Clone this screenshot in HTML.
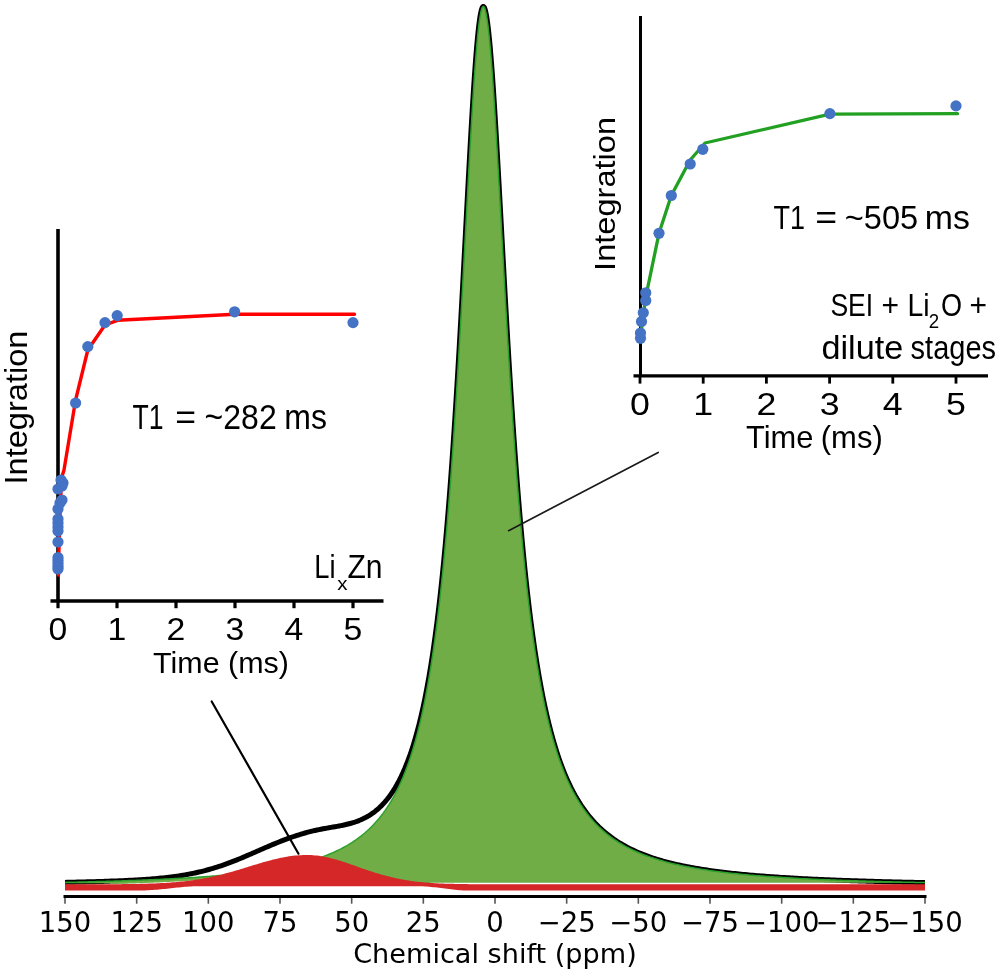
<!DOCTYPE html>
<html><head><meta charset="utf-8"><title>Li NMR spectrum with T1 insets</title><style>
html,body{margin:0;padding:0;background:#fff;}
svg{display:block;}
text{fill:#000;}
</style></head><body>
<svg width="1000" height="973" viewBox="0 0 1000 973">
<rect width="1000" height="973" fill="#fff"/>
<polyline points="65.00,882.40 67.00,882.36 69.00,882.31 71.00,882.26 73.00,882.22 75.00,882.17 77.00,882.12 79.00,882.07 81.00,882.02 83.00,881.97 85.00,881.92 87.00,881.86 89.00,881.81 91.00,881.75 93.00,881.70 95.00,881.64 97.00,881.58 99.00,881.52 101.00,881.45 103.00,881.39 105.00,881.33 107.00,881.26 109.00,881.19 111.00,881.12 113.00,881.04 115.00,880.97 117.00,880.89 119.00,880.81 121.00,880.73 123.00,880.64 125.00,880.55 127.00,880.46 129.00,880.36 131.00,880.26 133.00,880.16 135.00,880.05 137.00,879.93 139.00,879.82 141.00,879.69 143.00,879.57 145.00,879.43 147.00,879.29 149.00,879.14 151.00,878.99 153.00,878.83 155.00,878.66 157.00,878.48 159.00,878.30 161.00,878.10 163.00,877.90 165.00,877.69 167.00,877.46 169.00,877.23 171.00,876.98 173.00,876.72 175.00,876.45 177.00,876.17 179.00,875.87 181.00,875.56 183.00,875.23 185.00,874.89 187.00,874.53 189.00,874.16 191.00,873.77 193.00,873.36 195.00,872.94 197.00,872.50 199.00,872.04 201.00,871.56 203.00,871.07 205.00,870.55 207.00,870.02 209.00,869.47 211.00,868.90 213.00,868.31 215.00,867.70 217.00,867.07 219.00,866.42 221.00,865.76 223.00,865.07 225.00,864.37 227.00,863.65 229.00,862.92 231.00,862.16 233.00,861.40 235.00,860.62 237.00,859.82 239.00,859.01 241.00,858.19 243.00,857.36 245.00,856.52 247.00,855.67 249.00,854.81 251.00,853.94 253.00,853.07 255.00,852.20 257.00,851.33 259.00,850.45 261.00,849.58 263.00,848.70 265.00,847.83 267.00,846.97 269.00,846.11 271.00,845.26 273.00,844.42 275.00,843.59 277.00,842.77 279.00,841.96 281.00,841.17 283.00,840.39 285.00,839.63 287.00,838.88 289.00,838.15 291.00,837.44 293.00,836.75 295.00,836.08 297.00,835.42 299.00,834.79 301.00,834.17 303.00,833.58 305.00,833.00 307.00,832.44 309.00,831.90 311.00,831.39 313.00,830.91 315.00,830.45 317.00,830.02 319.00,829.60 321.00,829.21 323.00,828.82 325.00,828.46 327.00,828.10 329.00,827.75 331.00,827.40 333.00,827.06 335.00,826.71 337.00,826.35 339.00,825.98 341.00,825.59 343.00,825.18 345.00,824.75 347.00,824.28 349.00,823.78 351.00,823.24 353.00,822.65 355.00,822.01 357.00,821.31 359.00,820.55 361.00,819.72 363.00,818.81 365.00,817.83 367.00,816.75 369.00,815.58 371.00,814.31 373.00,812.93 375.00,811.43 377.00,809.80 379.00,808.04 381.00,806.14 383.00,804.09 385.00,801.88 387.00,799.49 389.00,796.92 391.00,794.15 393.00,791.17 395.00,787.97 397.00,784.52 399.00,780.82 401.00,776.84 403.00,772.57 405.00,767.98 407.00,763.05 409.00,757.74 411.00,752.04 413.00,745.91 415.00,739.32 417.00,732.22 419.00,724.58 421.00,716.35 423.00,707.47 425.00,697.90 427.00,687.57 429.00,676.41 431.00,664.35 433.00,651.31 435.00,637.21 437.00,621.96 439.00,605.45 440.00,596.69 440.25,594.45 440.50,592.18 440.75,589.90 441.00,587.59 441.25,585.25 441.50,582.90 441.75,580.52 442.00,578.12 442.25,575.69 442.50,573.24 442.75,570.77 443.00,568.27 443.25,565.75 443.50,563.20 443.75,560.63 444.00,558.03 444.25,555.41 444.50,552.76 444.75,550.09 445.00,547.39 445.25,544.66 445.50,541.91 445.75,539.13 446.00,536.33 446.25,533.49 446.50,530.64 446.75,527.75 447.00,524.84 447.25,521.90 447.50,518.93 447.75,515.93 448.00,512.91 448.25,509.85 448.50,506.77 448.75,503.66 449.00,500.53 449.25,497.36 449.50,494.16 449.75,490.94 450.00,487.68 450.25,484.40 450.50,481.09 450.75,477.75 451.00,474.37 451.25,470.97 451.50,467.54 451.75,464.08 452.00,460.59 452.25,457.07 452.50,453.52 452.75,449.93 453.00,446.32 453.25,442.68 453.50,439.01 453.75,435.31 454.00,431.58 454.25,427.82 454.50,424.03 454.75,420.20 455.00,416.35 455.25,412.47 455.50,408.56 455.75,404.63 456.00,400.66 456.25,396.66 456.50,392.63 456.75,388.58 457.00,384.50 457.25,380.38 457.50,376.25 457.75,372.08 458.00,367.89 458.25,363.67 458.50,359.42 458.75,355.15 459.00,350.85 459.25,346.52 459.50,342.17 459.75,337.80 460.00,333.41 460.25,328.99 460.50,324.54 460.75,320.08 461.00,315.60 461.25,311.09 461.50,306.57 461.75,302.02 462.00,297.46 462.25,292.88 462.50,288.28 462.75,283.67 463.00,279.04 463.25,274.40 463.50,269.75 463.75,265.09 464.00,260.41 464.25,255.73 464.50,251.03 464.75,246.33 465.00,241.63 465.25,236.92 465.50,232.20 465.75,227.49 466.00,222.77 466.25,218.06 466.50,213.35 466.75,208.64 467.00,203.94 467.25,199.24 467.50,194.56 467.75,189.88 468.00,185.22 468.25,180.57 468.50,175.94 468.75,171.33 469.00,166.73 469.25,162.16 469.50,157.61 469.75,153.09 470.00,148.59 470.25,144.12 470.50,139.69 470.75,135.29 471.00,130.93 471.25,126.60 471.50,122.32 471.75,118.07 472.00,113.88 472.25,109.73 472.50,105.63 472.75,101.58 473.00,97.58 473.25,93.64 473.50,89.77 473.75,85.95 474.00,82.19 474.25,78.50 474.50,74.88 474.75,71.33 475.00,67.85 475.25,64.44 475.50,61.12 475.75,57.87 476.00,54.70 476.25,51.62 476.50,48.62 476.75,45.71 477.00,42.89 477.25,40.16 477.50,37.53 477.75,34.99 478.00,32.55 478.25,30.21 478.50,27.97 478.75,25.83 479.00,23.80 479.25,21.87 479.50,20.05 479.75,18.34 480.00,16.74 480.25,15.26 480.50,13.88 480.75,12.62 481.00,11.47 481.25,10.44 481.50,9.53 481.75,8.73 482.00,8.05 482.25,7.49 482.50,7.05 482.75,6.73 483.00,6.52 483.25,6.44 483.50,6.48 483.75,6.62 484.00,6.88 484.25,7.25 484.50,7.74 484.75,8.33 485.00,9.04 485.25,9.85 485.50,10.78 485.75,11.81 486.00,12.95 486.25,14.20 486.50,15.56 486.75,17.02 487.00,18.59 487.25,20.26 487.50,22.03 487.75,23.90 488.00,25.87 488.25,27.94 488.50,30.11 488.75,32.37 489.00,34.72 489.25,37.17 489.50,39.70 489.75,42.33 490.00,45.04 490.25,47.83 490.50,50.71 490.75,53.67 491.00,56.71 491.25,59.83 491.50,63.02 491.75,66.28 492.00,69.61 492.25,73.02 492.50,76.49 492.75,80.02 493.00,83.62 493.25,87.28 493.50,91.00 493.75,94.77 494.00,98.60 494.25,102.48 494.50,106.42 494.75,110.39 495.00,114.42 495.25,118.49 495.50,122.60 495.75,126.75 496.00,130.94 496.25,135.17 496.50,139.43 496.75,143.72 497.00,148.04 497.25,152.39 497.50,156.77 497.75,161.17 498.00,165.59 498.25,170.04 498.50,174.50 498.75,178.98 499.00,183.48 499.25,187.99 499.50,192.52 499.75,197.05 500.00,201.59 500.25,206.14 500.50,210.70 500.75,215.26 501.00,219.83 501.25,224.40 501.50,228.96 501.75,233.53 502.00,238.10 502.25,242.66 502.50,247.22 502.75,251.77 503.00,256.32 503.25,260.85 503.50,265.38 503.75,269.90 504.00,274.41 504.25,278.91 504.50,283.39 504.75,287.86 505.00,292.32 505.25,296.76 505.50,301.18 505.75,305.59 506.00,309.98 506.25,314.35 506.50,318.70 506.75,323.04 507.00,327.35 507.25,331.64 507.50,335.91 507.75,340.16 508.00,344.39 508.25,348.59 508.50,352.77 508.75,356.93 509.00,361.06 509.25,365.17 509.50,369.25 509.75,373.31 510.00,377.35 510.25,381.35 510.50,385.33 510.75,389.29 511.00,393.22 511.25,397.12 511.50,400.99 511.75,404.84 512.00,408.66 512.25,412.45 512.50,416.22 512.75,419.95 513.00,423.66 513.25,427.35 513.50,431.00 513.75,434.63 514.00,438.22 514.25,441.79 514.50,445.34 514.75,448.85 515.00,452.33 515.25,455.79 515.50,459.22 515.75,462.62 516.00,466.00 516.25,469.34 516.50,472.66 516.75,475.95 517.00,479.21 517.25,482.45 517.50,485.65 517.75,488.83 518.00,491.98 518.25,495.11 518.50,498.21 518.75,501.28 519.00,504.32 519.25,507.34 519.50,510.33 519.75,513.29 520.00,516.23 520.25,519.14 520.50,522.03 520.75,524.89 521.00,527.72 521.25,530.53 521.50,533.31 521.75,536.07 522.00,538.80 522.25,541.51 522.50,544.19 522.75,546.85 523.00,549.48 523.25,552.09 523.50,554.68 523.75,557.24 524.00,559.78 524.25,562.29 524.50,564.78 524.75,567.25 525.00,569.69 525.25,572.12 525.50,574.52 525.75,576.89 526.00,579.25 526.25,581.58 526.50,583.89 526.75,586.18 527.00,588.45 527.25,590.70 527.50,592.92 527.75,595.13 528.00,597.31 528.25,599.48 528.50,601.62 528.75,603.75 529.00,605.85 529.25,607.93 529.50,610.00 529.75,612.04 531.00,621.98 533.00,636.95 535.00,650.83 537.00,663.72 539.00,675.69 541.00,686.81 543.00,697.15 545.00,706.78 547.00,715.76 549.00,724.12 551.00,731.94 553.00,739.24 555.00,746.06 557.00,752.46 559.00,758.45 561.00,764.07 563.00,769.35 565.00,774.31 567.00,778.98 569.00,783.37 571.00,787.52 573.00,791.43 575.00,795.12 577.00,798.61 579.00,801.91 581.00,805.04 583.00,808.00 585.00,810.81 587.00,813.48 589.00,816.02 591.00,818.42 593.00,820.72 595.00,822.90 597.00,824.97 599.00,826.96 601.00,828.84 603.00,830.65 605.00,832.37 607.00,834.02 609.00,835.59 611.00,837.10 613.00,838.54 615.00,839.93 617.00,841.25 619.00,842.52 621.00,843.74 623.00,844.91 625.00,846.04 627.00,847.12 629.00,848.16 631.00,849.16 633.00,850.12 635.00,851.05 637.00,851.94 639.00,852.80 641.00,853.63 643.00,854.43 645.00,855.20 647.00,855.95 649.00,856.66 651.00,857.36 653.00,858.03 655.00,858.68 657.00,859.31 659.00,859.92 661.00,860.50 663.00,861.07 665.00,861.62 667.00,862.16 669.00,862.68 671.00,863.18 673.00,863.66 675.00,864.14 677.00,864.59 679.00,865.04 681.00,865.47 683.00,865.89 685.00,866.30 687.00,866.69 689.00,867.07 691.00,867.45 693.00,867.81 695.00,868.16 697.00,868.51 699.00,868.84 701.00,869.17 703.00,869.48 705.00,869.79 707.00,870.09 709.00,870.39 711.00,870.67 713.00,870.95 715.00,871.22 717.00,871.48 719.00,871.74 721.00,871.99 723.00,872.24 725.00,872.48 727.00,872.71 729.00,872.94 731.00,873.16 733.00,873.38 735.00,873.59 737.00,873.80 739.00,874.00 741.00,874.20 743.00,874.39 745.00,874.58 747.00,874.77 749.00,874.95 751.00,875.13 753.00,875.30 755.00,875.47 757.00,875.63 759.00,875.80 761.00,875.95 763.00,876.11 765.00,876.26 767.00,876.41 769.00,876.56 771.00,876.70 773.00,876.84 775.00,876.98 777.00,877.11 779.00,877.24 781.00,877.37 783.00,877.50 785.00,877.62 787.00,877.75 789.00,877.87 791.00,877.98 793.00,878.10 795.00,878.21 797.00,878.32 799.00,878.43 801.00,878.54 803.00,878.64 805.00,878.74 807.00,878.84 809.00,878.94 811.00,879.04 813.00,879.14 815.00,879.23 817.00,879.32 819.00,879.41 821.00,879.50 823.00,879.59 825.00,879.67 827.00,879.76 829.00,879.84 831.00,879.92 833.00,880.00 835.00,880.08 837.00,880.16 839.00,880.23 841.00,880.31 843.00,880.38 845.00,880.46 847.00,880.53 849.00,880.60 851.00,880.67 853.00,880.73 855.00,880.80 857.00,880.87 859.00,880.93 861.00,880.99 863.00,881.06 865.00,881.12 867.00,881.18 869.00,881.24 871.00,881.30 873.00,881.36 875.00,881.41 877.00,881.47 879.00,881.53 881.00,881.58 883.00,881.63 885.00,881.69 887.00,881.74 889.00,881.79 891.00,881.84 893.00,881.89 895.00,881.94 897.00,881.99 899.00,882.04 901.00,882.08 903.00,882.13 905.00,882.18 907.00,882.22 909.00,882.27 911.00,882.31 913.00,882.35 915.00,882.40 917.00,882.44 919.00,882.48 921.00,882.52 923.00,882.56 925.00,882.60" fill="none" stroke="#000" stroke-width="5" stroke-linejoin="round"/>
<polygon points="65.00,882.40 67.00,882.36 69.00,882.32 71.00,882.27 73.00,882.22 75.00,882.18 77.00,882.13 79.00,882.08 81.00,882.03 83.00,881.98 85.00,881.93 87.00,881.88 89.00,881.83 91.00,881.78 93.00,881.73 95.00,881.67 97.00,881.62 99.00,881.56 101.00,881.50 103.00,881.45 105.00,881.39 107.00,881.33 109.00,881.27 111.00,881.21 113.00,881.14 115.00,881.08 117.00,881.02 119.00,880.95 121.00,880.88 123.00,880.82 125.00,880.75 127.00,880.68 129.00,880.61 131.00,880.53 133.00,880.46 135.00,880.39 137.00,880.31 139.00,880.23 141.00,880.15 143.00,880.07 145.00,879.99 147.00,879.91 149.00,879.83 151.00,879.74 153.00,879.65 155.00,879.56 157.00,879.47 159.00,879.38 161.00,879.29 163.00,879.19 165.00,879.09 167.00,878.99 169.00,878.89 171.00,878.79 173.00,878.68 175.00,878.58 177.00,878.47 179.00,878.36 181.00,878.24 183.00,878.13 185.00,878.01 187.00,877.89 189.00,877.76 191.00,877.64 193.00,877.51 195.00,877.38 197.00,877.25 199.00,877.11 201.00,876.97 203.00,876.83 205.00,876.68 207.00,876.54 209.00,876.39 211.00,876.23 213.00,876.07 215.00,875.91 217.00,875.75 219.00,875.58 221.00,875.41 223.00,875.23 225.00,875.05 227.00,874.86 229.00,874.67 231.00,874.48 233.00,874.28 235.00,874.08 237.00,873.87 239.00,873.66 241.00,873.44 243.00,873.22 245.00,872.99 247.00,872.76 249.00,872.52 251.00,872.27 253.00,872.02 255.00,871.76 257.00,871.49 259.00,871.22 261.00,870.94 263.00,870.65 265.00,870.36 267.00,870.05 269.00,869.74 271.00,869.42 273.00,869.09 275.00,868.76 277.00,868.41 279.00,868.05 281.00,867.68 283.00,867.30 285.00,866.91 287.00,866.51 289.00,866.10 291.00,865.67 293.00,865.23 295.00,864.78 297.00,864.31 299.00,863.83 301.00,863.33 303.00,862.82 305.00,862.29 307.00,861.74 309.00,861.17 311.00,860.59 313.00,859.98 315.00,859.36 317.00,858.71 319.00,858.04 321.00,857.34 323.00,856.63 325.00,855.88 327.00,855.11 329.00,854.31 331.00,853.48 333.00,852.61 335.00,851.72 337.00,850.79 339.00,849.82 341.00,848.81 343.00,847.76 345.00,846.67 347.00,845.54 349.00,844.35 351.00,843.12 353.00,841.83 355.00,840.49 357.00,839.08 359.00,837.61 361.00,836.08 363.00,834.47 365.00,832.79 367.00,831.03 369.00,829.19 371.00,827.25 373.00,825.22 375.00,823.08 377.00,820.84 379.00,818.47 381.00,815.99 383.00,813.37 385.00,810.60 387.00,807.68 389.00,804.60 391.00,801.34 393.00,797.89 395.00,794.24 397.00,790.37 399.00,786.26 401.00,781.90 403.00,777.26 405.00,772.32 407.00,767.06 409.00,761.45 411.00,755.46 413.00,749.06 415.00,742.21 417.00,734.87 419.00,727.01 421.00,718.57 423.00,709.50 425.00,699.74 427.00,689.25 429.00,677.93 431.00,665.73 433.00,652.56 435.00,638.34 437.00,622.98 439.00,606.37 440.00,597.57 440.25,595.31 440.50,593.04 440.75,590.74 441.00,588.42 441.25,586.07 441.50,583.71 441.75,581.32 442.00,578.90 442.25,576.47 442.50,574.01 442.75,571.52 443.00,569.01 443.25,566.48 443.50,563.92 443.75,561.34 444.00,558.74 444.25,556.10 444.50,553.45 444.75,550.76 445.00,548.05 445.25,545.32 445.50,542.56 445.75,539.77 446.00,536.96 446.25,534.12 446.50,531.25 446.75,528.36 447.00,525.44 447.25,522.49 447.50,519.51 447.75,516.51 448.00,513.47 448.25,510.41 448.50,507.32 448.75,504.21 449.00,501.06 449.25,497.89 449.50,494.68 449.75,491.45 450.00,488.19 450.25,484.90 450.50,481.58 450.75,478.23 451.00,474.85 451.25,471.44 451.50,468.01 451.75,464.54 452.00,461.04 452.25,457.51 452.50,453.95 452.75,450.37 453.00,446.75 453.25,443.10 453.50,439.43 453.75,435.72 454.00,431.98 454.25,428.21 454.50,424.42 454.75,420.59 455.00,416.73 455.25,412.85 455.50,408.93 455.75,404.99 456.00,401.01 456.25,397.01 456.50,392.98 456.75,388.92 457.00,384.83 457.25,380.72 457.50,376.57 457.75,372.40 458.00,368.20 458.25,363.98 458.50,359.73 458.75,355.45 459.00,351.15 459.25,346.82 459.50,342.47 459.75,338.09 460.00,333.69 460.25,329.26 460.50,324.82 460.75,320.35 461.00,315.86 461.25,311.35 461.50,306.82 461.75,302.27 462.00,297.71 462.25,293.12 462.50,288.52 462.75,283.91 463.00,279.28 463.25,274.64 463.50,269.98 463.75,265.31 464.00,260.63 464.25,255.94 464.50,251.25 464.75,246.54 465.00,241.84 465.25,237.12 465.50,232.41 465.75,227.69 466.00,222.97 466.25,218.25 466.50,213.54 466.75,208.83 467.00,204.12 467.25,199.42 467.50,194.74 467.75,190.06 468.00,185.39 468.25,180.74 468.50,176.11 468.75,171.49 469.00,166.89 469.25,162.32 469.50,157.77 469.75,153.24 470.00,148.74 470.25,144.27 470.50,139.84 470.75,135.43 471.00,131.07 471.25,126.74 471.50,122.45 471.75,118.21 472.00,114.01 472.25,109.86 472.50,105.75 472.75,101.70 473.00,97.71 473.25,93.77 473.50,89.88 473.75,86.06 474.00,82.31 474.25,78.62 474.50,74.99 474.75,71.44 475.00,67.96 475.25,64.55 475.50,61.22 475.75,57.97 476.00,54.80 476.25,51.72 476.50,48.72 476.75,45.81 477.00,42.99 477.25,40.26 477.50,37.62 477.75,35.08 478.00,32.64 478.25,30.30 478.50,28.06 478.75,25.92 479.00,23.88 479.25,21.95 479.50,20.13 479.75,18.42 480.00,16.82 480.25,15.33 480.50,13.96 480.75,12.69 481.00,11.54 481.25,10.51 481.50,9.60 481.75,8.80 482.00,8.12 482.25,7.56 482.50,7.11 482.75,6.79 483.00,6.59 483.25,6.50 483.50,6.54 483.75,6.68 484.00,6.94 484.25,7.31 484.50,7.79 484.75,8.39 485.00,9.09 485.25,9.90 485.50,10.83 485.75,11.86 486.00,13.00 486.25,14.25 486.50,15.61 486.75,17.07 487.00,18.63 487.25,20.30 487.50,22.07 487.75,23.94 488.00,25.92 488.25,27.98 488.50,30.15 488.75,32.41 489.00,34.76 489.25,37.21 489.50,39.74 489.75,42.37 490.00,45.08 490.25,47.87 490.50,50.75 490.75,53.71 491.00,56.75 491.25,59.86 491.50,63.05 491.75,66.31 492.00,69.65 492.25,73.05 492.50,76.52 492.75,80.06 493.00,83.65 493.25,87.31 493.50,91.03 493.75,94.80 494.00,98.63 494.25,102.51 494.50,106.44 494.75,110.42 495.00,114.45 495.25,118.52 495.50,122.63 495.75,126.78 496.00,130.97 496.25,135.19 496.50,139.45 496.75,143.74 497.00,148.07 497.25,152.42 497.50,156.79 497.75,161.19 498.00,165.62 498.25,170.06 498.50,174.52 498.75,179.00 499.00,183.50 499.25,188.01 499.50,192.53 499.75,197.07 500.00,201.61 500.25,206.16 500.50,210.72 500.75,215.28 501.00,219.85 501.25,224.41 501.50,228.98 501.75,233.55 502.00,238.11 502.25,242.68 502.50,247.23 502.75,251.79 503.00,256.33 503.25,260.87 503.50,265.40 503.75,269.92 504.00,274.42 504.25,278.92 504.50,283.40 504.75,287.87 505.00,292.33 505.25,296.77 505.50,301.19 505.75,305.60 506.00,309.99 506.25,314.36 506.50,318.71 506.75,323.05 507.00,327.36 507.25,331.65 507.50,335.92 507.75,340.17 508.00,344.40 508.25,348.60 508.50,352.78 508.75,356.94 509.00,361.07 509.25,365.18 509.50,369.26 509.75,373.32 510.00,377.35 510.25,381.36 510.50,385.34 510.75,389.30 511.00,393.22 511.25,397.13 511.50,401.00 511.75,404.85 512.00,408.67 512.25,412.46 512.50,416.22 512.75,419.96 513.00,423.67 513.25,427.35 513.50,431.01 513.75,434.63 514.00,438.23 514.25,441.80 514.50,445.34 514.75,448.85 515.00,452.34 515.25,455.80 515.50,459.23 515.75,462.63 516.00,466.00 516.25,469.35 516.50,472.66 516.75,475.95 517.00,479.22 517.25,482.45 517.50,485.66 517.75,488.84 518.00,491.99 518.25,495.11 518.50,498.21 518.75,501.28 519.00,504.33 519.25,507.34 519.50,510.33 519.75,513.30 520.00,516.23 520.25,519.15 520.50,522.03 520.75,524.89 521.00,527.72 521.25,530.53 521.50,533.31 521.75,536.07 522.00,538.80 522.25,541.51 522.50,544.19 522.75,546.85 523.00,549.48 523.25,552.09 523.50,554.68 523.75,557.24 524.00,559.78 524.25,562.29 524.50,564.78 524.75,567.25 525.00,569.70 525.25,572.12 525.50,574.52 525.75,576.89 526.00,579.25 526.25,581.58 526.50,583.89 526.75,586.18 527.00,588.45 527.25,590.70 527.50,592.93 527.75,595.13 528.00,597.32 528.25,599.48 528.50,601.62 528.75,603.75 529.00,605.85 529.25,607.93 529.50,610.00 529.75,612.04 531.00,621.99 533.00,636.95 535.00,650.83 537.00,663.72 539.00,675.69 541.00,686.81 543.00,697.15 545.00,706.78 547.00,715.76 549.00,724.12 551.00,731.94 553.00,739.24 555.00,746.06 557.00,752.46 559.00,758.45 561.00,764.07 563.00,769.35 565.00,774.31 567.00,778.98 569.00,783.37 571.00,787.52 573.00,791.43 575.00,795.12 577.00,798.61 579.00,801.91 581.00,805.04 583.00,808.00 585.00,810.81 587.00,813.48 589.00,816.02 591.00,818.42 593.00,820.72 595.00,822.90 597.00,824.97 599.00,826.96 601.00,828.84 603.00,830.65 605.00,832.37 607.00,834.02 609.00,835.59 611.00,837.10 613.00,838.54 615.00,839.93 617.00,841.25 619.00,842.52 621.00,843.74 623.00,844.91 625.00,846.04 627.00,847.12 629.00,848.16 631.00,849.16 633.00,850.12 635.00,851.05 637.00,851.94 639.00,852.80 641.00,853.63 643.00,854.43 645.00,855.20 647.00,855.95 649.00,856.66 651.00,857.36 653.00,858.03 655.00,858.68 657.00,859.31 659.00,859.92 661.00,860.50 663.00,861.07 665.00,861.62 667.00,862.16 669.00,862.68 671.00,863.18 673.00,863.66 675.00,864.14 677.00,864.59 679.00,865.04 681.00,865.47 683.00,865.89 685.00,866.30 687.00,866.69 689.00,867.07 691.00,867.45 693.00,867.81 695.00,868.16 697.00,868.51 699.00,868.84 701.00,869.17 703.00,869.48 705.00,869.79 707.00,870.09 709.00,870.39 711.00,870.67 713.00,870.95 715.00,871.22 717.00,871.48 719.00,871.74 721.00,871.99 723.00,872.24 725.00,872.48 727.00,872.71 729.00,872.94 731.00,873.16 733.00,873.38 735.00,873.59 737.00,873.80 739.00,874.00 741.00,874.20 743.00,874.39 745.00,874.58 747.00,874.77 749.00,874.95 751.00,875.13 753.00,875.30 755.00,875.47 757.00,875.63 759.00,875.80 761.00,875.95 763.00,876.11 765.00,876.26 767.00,876.41 769.00,876.56 771.00,876.70 773.00,876.84 775.00,876.98 777.00,877.11 779.00,877.24 781.00,877.37 783.00,877.50 785.00,877.62 787.00,877.75 789.00,877.87 791.00,877.98 793.00,878.10 795.00,878.21 797.00,878.32 799.00,878.43 801.00,878.54 803.00,878.64 805.00,878.74 807.00,878.84 809.00,878.94 811.00,879.04 813.00,879.14 815.00,879.23 817.00,879.32 819.00,879.41 821.00,879.50 823.00,879.59 825.00,879.67 827.00,879.76 829.00,879.84 831.00,879.92 833.00,880.00 835.00,880.08 837.00,880.16 839.00,880.23 841.00,880.31 843.00,880.38 845.00,880.46 847.00,880.53 849.00,880.60 851.00,880.67 853.00,880.73 855.00,880.80 857.00,880.87 859.00,880.93 861.00,880.99 863.00,881.06 865.00,881.12 867.00,881.18 869.00,881.24 871.00,881.30 873.00,881.36 875.00,881.41 877.00,881.47 879.00,881.53 881.00,881.58 883.00,881.63 885.00,881.69 887.00,881.74 889.00,881.79 891.00,881.84 893.00,881.89 895.00,881.94 897.00,881.99 899.00,882.04 901.00,882.08 903.00,882.13 905.00,882.18 907.00,882.22 909.00,882.27 911.00,882.31 913.00,882.35 915.00,882.40 917.00,882.44 919.00,882.48 921.00,882.52 923.00,882.56 925.00,882.60 925.00,882.80 923.00,882.80 921.00,882.80 919.00,882.80 917.00,882.80 915.00,882.80 913.00,882.80 911.00,882.80 909.00,882.80 907.00,882.80 905.00,882.80 903.00,882.80 901.00,882.80 899.00,882.80 897.00,882.80 895.00,882.80 893.00,882.80 891.00,882.80 889.00,882.80 887.00,882.80 885.00,882.80 883.00,882.80 881.00,882.80 879.00,882.80 877.00,882.80 875.00,882.80 873.00,882.80 871.00,882.80 869.00,882.80 867.00,882.80 865.00,882.80 863.00,882.80 861.00,882.80 859.00,882.80 857.00,882.80 855.00,882.80 853.00,882.80 851.00,882.80 849.00,882.80 847.00,882.80 845.00,882.80 843.00,882.80 841.00,882.80 839.00,882.80 837.00,882.80 835.00,882.80 833.00,882.80 831.00,882.80 829.00,882.80 827.00,882.80 825.00,882.80 823.00,882.80 821.00,882.80 819.00,882.80 817.00,882.80 815.00,882.80 813.00,882.80 811.00,882.80 809.00,882.80 807.00,882.80 805.00,882.80 803.00,882.80 801.00,882.80 799.00,882.80 797.00,882.80 795.00,882.80 793.00,882.80 791.00,882.80 789.00,882.80 787.00,882.80 785.00,882.80 783.00,882.80 781.00,882.80 779.00,882.80 777.00,882.80 775.00,882.80 773.00,882.80 771.00,882.80 769.00,882.80 767.00,882.80 765.00,882.80 763.00,882.80 761.00,882.80 759.00,882.80 757.00,882.80 755.00,882.80 753.00,882.80 751.00,882.80 749.00,882.80 747.00,882.80 745.00,882.80 743.00,882.80 741.00,882.80 739.00,882.80 737.00,882.80 735.00,882.80 733.00,882.80 731.00,882.80 729.00,882.80 727.00,882.80 725.00,882.80 723.00,882.80 721.00,882.80 719.00,882.80 717.00,882.80 715.00,882.80 713.00,882.80 711.00,882.80 709.00,882.80 707.00,882.80 705.00,882.80 703.00,882.80 701.00,882.80 699.00,882.80 697.00,882.80 695.00,882.80 693.00,882.80 691.00,882.80 689.00,882.80 687.00,882.80 685.00,882.80 683.00,882.80 681.00,882.80 679.00,882.80 677.00,882.80 675.00,882.80 673.00,882.80 671.00,882.80 669.00,882.80 667.00,882.80 665.00,882.80 663.00,882.80 661.00,882.80 659.00,882.80 657.00,882.80 655.00,882.80 653.00,882.80 651.00,882.80 649.00,882.80 647.00,882.80 645.00,882.80 643.00,882.80 641.00,882.80 639.00,882.80 637.00,882.80 635.00,882.80 633.00,882.80 631.00,882.80 629.00,882.80 627.00,882.80 625.00,882.80 623.00,882.80 621.00,882.80 619.00,882.80 617.00,882.80 615.00,882.80 613.00,882.80 611.00,882.80 609.00,882.80 607.00,882.80 605.00,882.80 603.00,882.80 601.00,882.80 599.00,882.80 597.00,882.80 595.00,882.80 593.00,882.80 591.00,882.80 589.00,882.80 587.00,882.80 585.00,882.80 583.00,882.80 581.00,882.80 579.00,882.80 577.00,882.80 575.00,882.80 573.00,882.80 571.00,882.80 569.00,882.80 567.00,882.80 565.00,882.80 563.00,882.80 561.00,882.80 559.00,882.80 557.00,882.80 555.00,882.80 553.00,882.80 551.00,882.80 549.00,882.80 547.00,882.80 545.00,882.80 543.00,882.80 541.00,882.80 539.00,882.80 537.00,882.80 535.00,882.80 533.00,882.80 531.00,882.80 529.75,882.80 529.50,882.80 529.25,882.80 529.00,882.80 528.75,882.80 528.50,882.80 528.25,882.80 528.00,882.80 527.75,882.80 527.50,882.80 527.25,882.80 527.00,882.80 526.75,882.80 526.50,882.80 526.25,882.80 526.00,882.80 525.75,882.80 525.50,882.80 525.25,882.80 525.00,882.80 524.75,882.80 524.50,882.80 524.25,882.80 524.00,882.80 523.75,882.80 523.50,882.80 523.25,882.80 523.00,882.80 522.75,882.80 522.50,882.80 522.25,882.80 522.00,882.80 521.75,882.80 521.50,882.80 521.25,882.80 521.00,882.80 520.75,882.80 520.50,882.80 520.25,882.80 520.00,882.80 519.75,882.80 519.50,882.80 519.25,882.80 519.00,882.80 518.75,882.80 518.50,882.80 518.25,882.80 518.00,882.80 517.75,882.80 517.50,882.80 517.25,882.80 517.00,882.80 516.75,882.80 516.50,882.80 516.25,882.80 516.00,882.80 515.75,882.80 515.50,882.80 515.25,882.80 515.00,882.80 514.75,882.80 514.50,882.80 514.25,882.80 514.00,882.80 513.75,882.80 513.50,882.80 513.25,882.80 513.00,882.80 512.75,882.80 512.50,882.80 512.25,882.80 512.00,882.80 511.75,882.80 511.50,882.80 511.25,882.80 511.00,882.80 510.75,882.80 510.50,882.80 510.25,882.80 510.00,882.80 509.75,882.80 509.50,882.80 509.25,882.80 509.00,882.80 508.75,882.80 508.50,882.80 508.25,882.80 508.00,882.80 507.75,882.80 507.50,882.80 507.25,882.80 507.00,882.80 506.75,882.80 506.50,882.80 506.25,882.80 506.00,882.80 505.75,882.80 505.50,882.80 505.25,882.80 505.00,882.80 504.75,882.80 504.50,882.80 504.25,882.80 504.00,882.80 503.75,882.80 503.50,882.80 503.25,882.80 503.00,882.80 502.75,882.80 502.50,882.80 502.25,882.80 502.00,882.80 501.75,882.80 501.50,882.80 501.25,882.80 501.00,882.80 500.75,882.80 500.50,882.80 500.25,882.80 500.00,882.80 499.75,882.80 499.50,882.80 499.25,882.80 499.00,882.80 498.75,882.80 498.50,882.80 498.25,882.80 498.00,882.80 497.75,882.80 497.50,882.80 497.25,882.80 497.00,882.80 496.75,882.80 496.50,882.80 496.25,882.80 496.00,882.80 495.75,882.80 495.50,882.80 495.25,882.80 495.00,882.80 494.75,882.80 494.50,882.80 494.25,882.80 494.00,882.80 493.75,882.80 493.50,882.80 493.25,882.80 493.00,882.80 492.75,882.80 492.50,882.80 492.25,882.80 492.00,882.80 491.75,882.80 491.50,882.80 491.25,882.80 491.00,882.80 490.75,882.80 490.50,882.80 490.25,882.80 490.00,882.80 489.75,882.80 489.50,882.80 489.25,882.80 489.00,882.80 488.75,882.80 488.50,882.80 488.25,882.80 488.00,882.80 487.75,882.80 487.50,882.80 487.25,882.80 487.00,882.80 486.75,882.80 486.50,882.80 486.25,882.80 486.00,882.80 485.75,882.80 485.50,882.80 485.25,882.80 485.00,882.80 484.75,882.80 484.50,882.80 484.25,882.80 484.00,882.80 483.75,882.80 483.50,882.80 483.25,882.80 483.00,882.80 482.75,882.80 482.50,882.80 482.25,882.80 482.00,882.80 481.75,882.80 481.50,882.80 481.25,882.80 481.00,882.80 480.75,882.80 480.50,882.80 480.25,882.80 480.00,882.80 479.75,882.80 479.50,882.80 479.25,882.80 479.00,882.80 478.75,882.80 478.50,882.80 478.25,882.80 478.00,882.80 477.75,882.80 477.50,882.80 477.25,882.80 477.00,882.80 476.75,882.80 476.50,882.80 476.25,882.80 476.00,882.80 475.75,882.80 475.50,882.80 475.25,882.80 475.00,882.80 474.75,882.80 474.50,882.80 474.25,882.80 474.00,882.80 473.75,882.80 473.50,882.80 473.25,882.80 473.00,882.80 472.75,882.80 472.50,882.80 472.25,882.80 472.00,882.80 471.75,882.80 471.50,882.80 471.25,882.80 471.00,882.80 470.75,882.80 470.50,882.80 470.25,882.80 470.00,882.80 469.75,882.80 469.50,882.80 469.25,882.80 469.00,882.80 468.75,882.80 468.50,882.80 468.25,882.80 468.00,882.80 467.75,882.80 467.50,882.80 467.25,882.80 467.00,882.80 466.75,882.80 466.50,882.80 466.25,882.80 466.00,882.80 465.75,882.80 465.50,882.80 465.25,882.80 465.00,882.80 464.75,882.80 464.50,882.80 464.25,882.80 464.00,882.80 463.75,882.80 463.50,882.80 463.25,882.80 463.00,882.80 462.75,882.80 462.50,882.80 462.25,882.80 462.00,882.80 461.75,882.80 461.50,882.80 461.25,882.80 461.00,882.80 460.75,882.80 460.50,882.80 460.25,882.80 460.00,882.80 459.75,882.80 459.50,882.80 459.25,882.80 459.00,882.80 458.75,882.80 458.50,882.80 458.25,882.80 458.00,882.80 457.75,882.80 457.50,882.80 457.25,882.80 457.00,882.80 456.75,882.80 456.50,882.80 456.25,882.80 456.00,882.80 455.75,882.80 455.50,882.80 455.25,882.80 455.00,882.80 454.75,882.80 454.50,882.80 454.25,882.80 454.00,882.80 453.75,882.80 453.50,882.80 453.25,882.80 453.00,882.80 452.75,882.80 452.50,882.80 452.25,882.80 452.00,882.80 451.75,882.80 451.50,882.80 451.25,882.80 451.00,882.80 450.75,882.80 450.50,882.80 450.25,882.80 450.00,882.80 449.75,882.80 449.50,882.80 449.25,882.80 449.00,882.80 448.75,882.80 448.50,882.80 448.25,882.80 448.00,882.80 447.75,882.80 447.50,882.80 447.25,882.80 447.00,882.80 446.75,882.80 446.50,882.80 446.25,882.80 446.00,882.80 445.75,882.80 445.50,882.80 445.25,882.80 445.00,882.80 444.75,882.80 444.50,882.80 444.25,882.80 444.00,882.80 443.75,882.80 443.50,882.80 443.25,882.80 443.00,882.80 442.75,882.80 442.50,882.80 442.25,882.80 442.00,882.80 441.75,882.80 441.50,882.80 441.25,882.80 441.00,882.80 440.75,882.80 440.50,882.80 440.25,882.80 440.00,882.80 439.00,882.80 437.00,882.80 435.00,882.80 433.00,882.80 431.00,882.80 429.00,883.80 427.00,883.80 425.00,883.80 423.00,883.80 421.00,883.80 419.00,883.80 417.00,883.80 415.00,883.80 413.00,883.80 411.00,883.80 409.00,883.80 407.00,883.80 405.00,883.80 403.00,883.80 401.00,883.80 399.00,883.80 397.00,883.80 395.00,883.80 393.00,883.80 391.00,883.80 389.00,883.80 387.00,883.80 385.00,883.80 383.00,883.80 381.00,883.80 379.00,883.80 377.00,883.80 375.00,883.80 373.00,883.80 371.00,883.80 369.00,883.80 367.00,883.80 365.00,883.80 363.00,883.80 361.00,883.80 359.00,883.80 357.00,883.80 355.00,883.80 353.00,883.80 351.00,883.80 349.00,883.80 347.00,883.80 345.00,883.80 343.00,883.80 341.00,883.80 339.00,883.80 337.00,883.80 335.00,883.80 333.00,883.80 331.00,883.80 329.00,883.80 327.00,883.80 325.00,883.80 323.00,883.80 321.00,883.80 319.00,883.80 317.00,883.80 315.00,883.80 313.00,883.80 311.00,883.80 309.00,883.80 307.00,883.80 305.00,883.80 303.00,883.80 301.00,883.80 299.00,883.80 297.00,883.80 295.00,883.80 293.00,883.80 291.00,883.80 289.00,883.80 287.00,883.80 285.00,883.80 283.00,883.80 281.00,883.80 279.00,883.80 277.00,883.80 275.00,883.80 273.00,883.80 271.00,883.80 269.00,883.80 267.00,883.80 265.00,883.80 263.00,883.80 261.00,883.80 259.00,883.80 257.00,883.80 255.00,883.80 253.00,883.80 251.00,883.80 249.00,883.80 247.00,883.80 245.00,883.80 243.00,883.80 241.00,883.80 239.00,883.80 237.00,883.80 235.00,883.80 233.00,883.80 231.00,883.80 229.00,883.80 227.00,883.80 225.00,883.80 223.00,883.80 221.00,883.80 219.00,883.80 217.00,883.80 215.00,883.80 213.00,879.07 211.00,879.23 209.00,879.39 207.00,879.54 205.00,879.68 203.00,879.83 201.00,879.97 199.00,880.11 197.00,880.25 195.00,880.38 193.00,880.51 191.00,880.64 189.00,880.76 187.00,880.89 185.00,881.01 183.00,881.13 181.00,881.24 179.00,881.36 177.00,881.47 175.00,881.58 173.00,881.68 171.00,881.79 169.00,881.89 167.00,881.99 165.00,882.09 163.00,882.19 161.00,882.29 159.00,882.38 157.00,882.47 155.00,882.56 153.00,882.65 151.00,882.74 149.00,882.83 147.00,882.91 145.00,882.99 143.00,883.07 141.00,883.15 139.00,883.23 137.00,883.31 135.00,883.39 133.00,883.46 131.00,883.53 129.00,883.61 127.00,883.68 125.00,883.75 123.00,883.80 121.00,883.80 119.00,883.80 117.00,883.80 115.00,883.80 113.00,883.80 111.00,883.80 109.00,883.30 107.00,883.30 105.00,883.30 103.00,883.30 101.00,883.30 99.00,883.30 97.00,883.30 95.00,883.30 93.00,883.30 91.00,883.30 89.00,883.30 87.00,883.30 85.00,883.30 83.00,883.30 81.00,883.30 79.00,883.30 77.00,883.30 75.00,883.30 73.00,883.30 71.00,883.30 69.00,883.30 67.00,883.30 65.00,883.30" fill="#70AD47"/>
<polyline points="65.00,882.40 67.00,882.36 69.00,882.32 71.00,882.27 73.00,882.22 75.00,882.18 77.00,882.13 79.00,882.08 81.00,882.03 83.00,881.98 85.00,881.93 87.00,881.88 89.00,881.83 91.00,881.78 93.00,881.73 95.00,881.67 97.00,881.62 99.00,881.56 101.00,881.50 103.00,881.45 105.00,881.39 107.00,881.33 109.00,881.27 111.00,881.21 113.00,881.14 115.00,881.08 117.00,881.02 119.00,880.95 121.00,880.88 123.00,880.82 125.00,880.75 127.00,880.68 129.00,880.61 131.00,880.53 133.00,880.46 135.00,880.39 137.00,880.31 139.00,880.23 141.00,880.15 143.00,880.07 145.00,879.99 147.00,879.91 149.00,879.83 151.00,879.74 153.00,879.65 155.00,879.56 157.00,879.47 159.00,879.38 161.00,879.29 163.00,879.19 165.00,879.09 167.00,878.99 169.00,878.89 171.00,878.79 173.00,878.68 175.00,878.58 177.00,878.47 179.00,878.36 181.00,878.24 183.00,878.13 185.00,878.01 187.00,877.89 189.00,877.76 191.00,877.64 193.00,877.51 195.00,877.38 197.00,877.25 199.00,877.11 201.00,876.97 203.00,876.83 205.00,876.68 207.00,876.54 209.00,876.39 211.00,876.23 213.00,876.07 215.00,875.91 217.00,875.75 219.00,875.58 221.00,875.41 223.00,875.23 225.00,875.05 227.00,874.86 229.00,874.67 231.00,874.48 233.00,874.28 235.00,874.08 237.00,873.87 239.00,873.66 241.00,873.44 243.00,873.22 245.00,872.99 247.00,872.76 249.00,872.52 251.00,872.27 253.00,872.02 255.00,871.76 257.00,871.49 259.00,871.22 261.00,870.94 263.00,870.65 265.00,870.36 267.00,870.05 269.00,869.74 271.00,869.42 273.00,869.09 275.00,868.76 277.00,868.41 279.00,868.05 281.00,867.68 283.00,867.30 285.00,866.91 287.00,866.51 289.00,866.10 291.00,865.67 293.00,865.23 295.00,864.78 297.00,864.31 299.00,863.83 301.00,863.33 303.00,862.82 305.00,862.29 307.00,861.74 309.00,861.17 311.00,860.59 313.00,859.98 315.00,859.36 317.00,858.71 319.00,858.04 321.00,857.34 323.00,856.63 325.00,855.88 327.00,855.11 329.00,854.31 331.00,853.48 333.00,852.61 335.00,851.72 337.00,850.79 339.00,849.82 341.00,848.81 343.00,847.76 345.00,846.67 347.00,845.54 349.00,844.35 351.00,843.12 353.00,841.83 355.00,840.49 357.00,839.08 359.00,837.61 361.00,836.08 363.00,834.47 365.00,832.79 367.00,831.03 369.00,829.19 371.00,827.25 373.00,825.22 375.00,823.08 377.00,820.84 379.00,818.47 381.00,815.99 383.00,813.37 385.00,810.60 387.00,807.68 389.00,804.60 391.00,801.34 393.00,797.89 395.00,794.24 397.00,790.37 399.00,786.26 401.00,781.90 403.00,777.26 405.00,772.32 407.00,767.06 409.00,761.45 411.00,755.46 413.00,749.06 415.00,742.21 417.00,734.87 419.00,727.01 421.00,718.57 423.00,709.50 425.00,699.74 427.00,689.25 429.00,677.93 431.00,665.73 433.00,652.56 435.00,638.34 437.00,622.98 439.00,606.37 440.00,597.57 440.25,595.31 440.50,593.04 440.75,590.74 441.00,588.42 441.25,586.07 441.50,583.71 441.75,581.32 442.00,578.90 442.25,576.47 442.50,574.01 442.75,571.52 443.00,569.01 443.25,566.48 443.50,563.92 443.75,561.34 444.00,558.74 444.25,556.10 444.50,553.45 444.75,550.76 445.00,548.05 445.25,545.32 445.50,542.56 445.75,539.77 446.00,536.96 446.25,534.12 446.50,531.25 446.75,528.36 447.00,525.44 447.25,522.49 447.50,519.51 447.75,516.51 448.00,513.47 448.25,510.41 448.50,507.32 448.75,504.21 449.00,501.06 449.25,497.89 449.50,494.68 449.75,491.45 450.00,488.19 450.25,484.90 450.50,481.58 450.75,478.23 451.00,474.85 451.25,471.44 451.50,468.01 451.75,464.54 452.00,461.04 452.25,457.51 452.50,453.95 452.75,450.37 453.00,446.75 453.25,443.10 453.50,439.43 453.75,435.72 454.00,431.98 454.25,428.21 454.50,424.42 454.75,420.59 455.00,416.73 455.25,412.85 455.50,408.93 455.75,404.99 456.00,401.01 456.25,397.01 456.50,392.98 456.75,388.92 457.00,384.83 457.25,380.72 457.50,376.57 457.75,372.40 458.00,368.20 458.25,363.98 458.50,359.73 458.75,355.45 459.00,351.15 459.25,346.82 459.50,342.47 459.75,338.09 460.00,333.69 460.25,329.26 460.50,324.82 460.75,320.35 461.00,315.86 461.25,311.35 461.50,306.82 461.75,302.27 462.00,297.71 462.25,293.12 462.50,288.52 462.75,283.91 463.00,279.28 463.25,274.64 463.50,269.98 463.75,265.31 464.00,260.63 464.25,255.94 464.50,251.25 464.75,246.54 465.00,241.84 465.25,237.12 465.50,232.41 465.75,227.69 466.00,222.97 466.25,218.25 466.50,213.54 466.75,208.83 467.00,204.12 467.25,199.42 467.50,194.74 467.75,190.06 468.00,185.39 468.25,180.74 468.50,176.11 468.75,171.49 469.00,166.89 469.25,162.32 469.50,157.77 469.75,153.24 470.00,148.74 470.25,144.27 470.50,139.84 470.75,135.43 471.00,131.07 471.25,126.74 471.50,122.45 471.75,118.21 472.00,114.01 472.25,109.86 472.50,105.75 472.75,101.70 473.00,97.71 473.25,93.77 473.50,89.88 473.75,86.06 474.00,82.31 474.25,78.62 474.50,74.99 474.75,71.44 475.00,67.96 475.25,64.55 475.50,61.22 475.75,57.97 476.00,54.80 476.25,51.72 476.50,48.72 476.75,45.81 477.00,42.99 477.25,40.26 477.50,37.62 477.75,35.08 478.00,32.64 478.25,30.30 478.50,28.06 478.75,25.92 479.00,23.88 479.25,21.95 479.50,20.13 479.75,18.42 480.00,16.82 480.25,15.33 480.50,13.96 480.75,12.69 481.00,11.54 481.25,10.51 481.50,9.60 481.75,8.80 482.00,8.12 482.25,7.56 482.50,7.11 482.75,6.79 483.00,6.59 483.25,6.50 483.50,6.54 483.75,6.68 484.00,6.94 484.25,7.31 484.50,7.79 484.75,8.39 485.00,9.09 485.25,9.90 485.50,10.83 485.75,11.86 486.00,13.00 486.25,14.25 486.50,15.61 486.75,17.07 487.00,18.63 487.25,20.30 487.50,22.07 487.75,23.94 488.00,25.92 488.25,27.98 488.50,30.15 488.75,32.41 489.00,34.76 489.25,37.21 489.50,39.74 489.75,42.37 490.00,45.08 490.25,47.87 490.50,50.75 490.75,53.71 491.00,56.75 491.25,59.86 491.50,63.05 491.75,66.31 492.00,69.65 492.25,73.05 492.50,76.52 492.75,80.06 493.00,83.65 493.25,87.31 493.50,91.03 493.75,94.80 494.00,98.63 494.25,102.51 494.50,106.44 494.75,110.42 495.00,114.45 495.25,118.52 495.50,122.63 495.75,126.78 496.00,130.97 496.25,135.19 496.50,139.45 496.75,143.74 497.00,148.07 497.25,152.42 497.50,156.79 497.75,161.19 498.00,165.62 498.25,170.06 498.50,174.52 498.75,179.00 499.00,183.50 499.25,188.01 499.50,192.53 499.75,197.07 500.00,201.61 500.25,206.16 500.50,210.72 500.75,215.28 501.00,219.85 501.25,224.41 501.50,228.98 501.75,233.55 502.00,238.11 502.25,242.68 502.50,247.23 502.75,251.79 503.00,256.33 503.25,260.87 503.50,265.40 503.75,269.92 504.00,274.42 504.25,278.92 504.50,283.40 504.75,287.87 505.00,292.33 505.25,296.77 505.50,301.19 505.75,305.60 506.00,309.99 506.25,314.36 506.50,318.71 506.75,323.05 507.00,327.36 507.25,331.65 507.50,335.92 507.75,340.17 508.00,344.40 508.25,348.60 508.50,352.78 508.75,356.94 509.00,361.07 509.25,365.18 509.50,369.26 509.75,373.32 510.00,377.35 510.25,381.36 510.50,385.34 510.75,389.30 511.00,393.22 511.25,397.13 511.50,401.00 511.75,404.85 512.00,408.67 512.25,412.46 512.50,416.22 512.75,419.96 513.00,423.67 513.25,427.35 513.50,431.01 513.75,434.63 514.00,438.23 514.25,441.80 514.50,445.34 514.75,448.85 515.00,452.34 515.25,455.80 515.50,459.23 515.75,462.63 516.00,466.00 516.25,469.35 516.50,472.66 516.75,475.95 517.00,479.22 517.25,482.45 517.50,485.66 517.75,488.84 518.00,491.99 518.25,495.11 518.50,498.21 518.75,501.28 519.00,504.33 519.25,507.34 519.50,510.33 519.75,513.30 520.00,516.23 520.25,519.15 520.50,522.03 520.75,524.89 521.00,527.72 521.25,530.53 521.50,533.31 521.75,536.07 522.00,538.80 522.25,541.51 522.50,544.19 522.75,546.85 523.00,549.48 523.25,552.09 523.50,554.68 523.75,557.24 524.00,559.78 524.25,562.29 524.50,564.78 524.75,567.25 525.00,569.70 525.25,572.12 525.50,574.52 525.75,576.89 526.00,579.25 526.25,581.58 526.50,583.89 526.75,586.18 527.00,588.45 527.25,590.70 527.50,592.93 527.75,595.13 528.00,597.32 528.25,599.48 528.50,601.62 528.75,603.75 529.00,605.85 529.25,607.93 529.50,610.00 529.75,612.04 531.00,621.99 533.00,636.95 535.00,650.83 537.00,663.72 539.00,675.69 541.00,686.81 543.00,697.15 545.00,706.78 547.00,715.76 549.00,724.12 551.00,731.94 553.00,739.24 555.00,746.06 557.00,752.46 559.00,758.45 561.00,764.07 563.00,769.35 565.00,774.31 567.00,778.98 569.00,783.37 571.00,787.52 573.00,791.43 575.00,795.12 577.00,798.61 579.00,801.91 581.00,805.04 583.00,808.00 585.00,810.81 587.00,813.48 589.00,816.02 591.00,818.42 593.00,820.72 595.00,822.90 597.00,824.97 599.00,826.96 601.00,828.84 603.00,830.65 605.00,832.37 607.00,834.02 609.00,835.59 611.00,837.10 613.00,838.54 615.00,839.93 617.00,841.25 619.00,842.52 621.00,843.74 623.00,844.91 625.00,846.04 627.00,847.12 629.00,848.16 631.00,849.16 633.00,850.12 635.00,851.05 637.00,851.94 639.00,852.80 641.00,853.63 643.00,854.43 645.00,855.20 647.00,855.95 649.00,856.66 651.00,857.36 653.00,858.03 655.00,858.68 657.00,859.31 659.00,859.92 661.00,860.50 663.00,861.07 665.00,861.62 667.00,862.16 669.00,862.68 671.00,863.18 673.00,863.66 675.00,864.14 677.00,864.59 679.00,865.04 681.00,865.47 683.00,865.89 685.00,866.30 687.00,866.69 689.00,867.07 691.00,867.45 693.00,867.81 695.00,868.16 697.00,868.51 699.00,868.84 701.00,869.17 703.00,869.48 705.00,869.79 707.00,870.09 709.00,870.39 711.00,870.67 713.00,870.95 715.00,871.22 717.00,871.48 719.00,871.74 721.00,871.99 723.00,872.24 725.00,872.48 727.00,872.71 729.00,872.94 731.00,873.16 733.00,873.38 735.00,873.59 737.00,873.80 739.00,874.00 741.00,874.20 743.00,874.39 745.00,874.58 747.00,874.77 749.00,874.95 751.00,875.13 753.00,875.30 755.00,875.47 757.00,875.63 759.00,875.80 761.00,875.95 763.00,876.11 765.00,876.26 767.00,876.41 769.00,876.56 771.00,876.70 773.00,876.84 775.00,876.98 777.00,877.11 779.00,877.24 781.00,877.37 783.00,877.50 785.00,877.62 787.00,877.75 789.00,877.87 791.00,877.98 793.00,878.10 795.00,878.21 797.00,878.32 799.00,878.43 801.00,878.54 803.00,878.64 805.00,878.74 807.00,878.84 809.00,878.94 811.00,879.04 813.00,879.14 815.00,879.23 817.00,879.32 819.00,879.41 821.00,879.50 823.00,879.59 825.00,879.67 827.00,879.76 829.00,879.84 831.00,879.92 833.00,880.00 835.00,880.08 837.00,880.16 839.00,880.23 841.00,880.31 843.00,880.38 845.00,880.46 847.00,880.53 849.00,880.60 851.00,880.67 853.00,880.73 855.00,880.80 857.00,880.87 859.00,880.93 861.00,880.99 863.00,881.06 865.00,881.12 867.00,881.18 869.00,881.24 871.00,881.30 873.00,881.36 875.00,881.41 877.00,881.47 879.00,881.53 881.00,881.58 883.00,881.63 885.00,881.69 887.00,881.74 889.00,881.79 891.00,881.84 893.00,881.89 895.00,881.94 897.00,881.99 899.00,882.04 901.00,882.08 903.00,882.13 905.00,882.18 907.00,882.22 909.00,882.27 911.00,882.31 913.00,882.35 915.00,882.40 917.00,882.44 919.00,882.48 921.00,882.52 923.00,882.56 925.00,882.60" fill="none" stroke="#2CA02C" stroke-width="1.5"/>
<polygon points="65.00,884.30 67.00,884.30 69.00,884.29 71.00,884.29 73.00,884.29 75.00,884.29 77.00,884.29 79.00,884.29 81.00,884.29 83.00,884.28 85.00,884.28 87.00,884.28 89.00,884.28 91.00,884.27 93.00,884.27 95.00,884.27 97.00,884.26 99.00,884.26 101.00,884.25 103.00,884.24 105.00,884.24 107.00,884.23 109.00,884.22 111.00,884.21 113.00,884.20 115.00,884.19 117.00,884.17 119.00,884.16 121.00,884.14 123.00,884.12 125.00,884.10 127.00,884.08 129.00,884.05 131.00,884.02 133.00,883.99 135.00,883.96 137.00,883.92 139.00,883.88 141.00,883.84 143.00,883.79 145.00,883.74 147.00,883.68 149.00,883.62 151.00,883.55 153.00,883.48 155.00,883.40 157.00,883.31 159.00,883.22 161.00,883.12 163.00,883.01 165.00,882.89 167.00,882.77 169.00,882.63 171.00,882.49 173.00,882.34 175.00,882.17 177.00,882.00 179.00,881.81 181.00,881.61 183.00,881.40 185.00,881.18 187.00,880.94 189.00,880.69 191.00,880.43 193.00,880.15 195.00,879.86 197.00,879.55 199.00,879.23 201.00,878.89 203.00,878.54 205.00,878.17 207.00,877.78 209.00,877.38 211.00,876.97 213.00,876.53 215.00,876.09 217.00,875.62 219.00,875.14 221.00,874.65 223.00,874.14 225.00,873.62 227.00,873.09 229.00,872.54 231.00,871.98 233.00,871.41 235.00,870.83 237.00,870.25 239.00,869.65 241.00,869.05 243.00,868.44 245.00,867.82 247.00,867.21 249.00,866.59 251.00,865.97 253.00,865.36 255.00,864.74 257.00,864.13 259.00,863.53 261.00,862.94 263.00,862.35 265.00,861.78 267.00,861.21 269.00,860.67 271.00,860.14 273.00,859.62 275.00,859.13 277.00,858.66 279.00,858.21 281.00,857.79 283.00,857.39 285.00,857.01 287.00,856.67 289.00,856.36 291.00,856.07 293.00,855.82 295.00,855.60 297.00,855.41 299.00,855.26 301.00,855.14 303.00,855.06 305.00,855.01 307.00,855.00 309.00,855.03 311.00,855.11 313.00,855.23 315.00,855.40 317.00,855.61 319.00,855.86 321.00,856.16 323.00,856.50 325.00,856.88 327.00,857.29 329.00,857.74 331.00,858.23 333.00,858.74 335.00,859.29 337.00,859.86 339.00,860.46 341.00,861.08 343.00,861.72 345.00,862.37 347.00,863.04 349.00,863.73 351.00,864.42 353.00,865.12 355.00,865.82 357.00,866.53 359.00,867.23 361.00,867.94 363.00,868.64 365.00,869.33 367.00,870.02 369.00,870.69 371.00,871.36 373.00,872.01 375.00,872.65 377.00,873.27 379.00,873.87 381.00,874.46 383.00,875.03 385.00,875.58 387.00,876.11 389.00,876.62 391.00,877.11 393.00,877.58 395.00,878.02 397.00,878.45 399.00,878.86 401.00,879.25 403.00,879.61 405.00,879.96 407.00,880.29 409.00,880.60 411.00,880.89 413.00,881.16 415.00,881.41 417.00,881.65 419.00,881.88 421.00,882.08 423.00,882.28 425.00,882.46 427.00,882.62 429.00,882.78 431.00,882.92 433.00,883.05 435.00,883.17 437.00,883.28 439.00,883.38 441.00,883.47 443.00,883.55 445.00,883.63 447.00,883.70 449.00,883.76 451.00,883.82 453.00,883.87 455.00,883.92 457.00,883.96 459.00,884.00 461.00,884.03 463.00,884.07 465.00,884.09 467.00,884.12 469.00,884.14 471.00,884.16 473.00,884.18 475.00,884.19 477.00,884.20 479.00,884.22 481.00,884.23 483.00,884.24 485.00,884.25 487.00,884.25 489.00,884.26 491.00,884.26 493.00,884.27 495.00,884.27 497.00,884.28 499.00,884.28 501.00,884.28 503.00,884.29 505.00,884.29 507.00,884.29 509.00,884.29 511.00,884.29 513.00,884.29 515.00,884.29 517.00,884.30 519.00,884.30 521.00,884.30 523.00,884.30 525.00,884.30 527.00,884.30 529.00,884.30 531.00,884.30 533.00,884.30 535.00,884.30 537.00,884.30 539.00,884.30 541.00,884.30 543.00,884.30 545.00,884.30 547.00,884.30 549.00,884.30 551.00,884.30 553.00,884.30 555.00,884.30 557.00,884.30 559.00,884.30 561.00,884.30 563.00,884.30 565.00,884.30 567.00,884.30 569.00,884.30 571.00,884.30 573.00,884.30 575.00,884.30 577.00,884.30 579.00,884.30 581.00,884.30 583.00,884.30 585.00,884.30 587.00,884.30 589.00,884.30 591.00,884.30 593.00,884.30 595.00,884.30 597.00,884.30 599.00,884.30 601.00,884.30 603.00,884.30 605.00,884.30 607.00,884.30 609.00,884.30 611.00,884.30 613.00,884.30 615.00,884.30 617.00,884.30 619.00,884.30 621.00,884.30 623.00,884.30 625.00,884.30 627.00,884.30 629.00,884.30 631.00,884.30 633.00,884.30 635.00,884.30 637.00,884.30 639.00,884.30 641.00,884.30 643.00,884.30 645.00,884.30 647.00,884.30 649.00,884.30 651.00,884.30 653.00,884.30 655.00,884.30 657.00,884.30 659.00,884.30 661.00,884.30 663.00,884.30 665.00,884.30 667.00,884.30 669.00,884.30 671.00,884.30 673.00,884.30 675.00,884.30 677.00,884.30 679.00,884.30 681.00,884.30 683.00,884.30 685.00,884.30 687.00,884.30 689.00,884.30 691.00,884.30 693.00,884.30 695.00,884.30 697.00,884.30 699.00,884.30 701.00,884.30 703.00,884.30 705.00,884.30 707.00,884.30 709.00,884.30 711.00,884.30 713.00,884.30 715.00,884.30 717.00,884.30 719.00,884.30 721.00,884.30 723.00,884.30 725.00,884.30 727.00,884.30 729.00,884.30 731.00,884.30 733.00,884.30 735.00,884.30 737.00,884.30 739.00,884.30 741.00,884.30 743.00,884.30 745.00,884.30 747.00,884.30 749.00,884.30 751.00,884.30 753.00,884.30 755.00,884.30 757.00,884.30 759.00,884.30 761.00,884.30 763.00,884.30 765.00,884.30 767.00,884.30 769.00,884.30 771.00,884.30 773.00,884.30 775.00,884.30 777.00,884.30 779.00,884.30 781.00,884.30 783.00,884.30 785.00,884.30 787.00,884.30 789.00,884.30 791.00,884.30 793.00,884.30 795.00,884.30 797.00,884.30 799.00,884.30 801.00,884.30 803.00,884.30 805.00,884.30 807.00,884.30 809.00,884.30 811.00,884.30 813.00,884.30 815.00,884.30 817.00,884.30 819.00,884.30 821.00,884.30 823.00,884.30 825.00,884.30 827.00,884.30 829.00,884.30 831.00,884.30 833.00,884.30 835.00,884.30 837.00,884.30 839.00,884.30 841.00,884.30 843.00,884.30 845.00,884.30 847.00,884.30 849.00,884.30 851.00,884.30 853.00,884.30 855.00,884.30 857.00,884.30 859.00,884.30 861.00,884.30 863.00,884.30 865.00,884.30 867.00,884.30 869.00,884.30 871.00,884.30 873.00,884.30 875.00,884.30 877.00,884.30 879.00,884.30 881.00,884.30 883.00,884.30 885.00,884.30 887.00,884.30 889.00,884.30 891.00,884.30 893.00,884.30 895.00,884.30 897.00,884.30 899.00,884.30 901.00,884.30 903.00,884.30 905.00,884.30 907.00,884.30 909.00,884.30 911.00,884.30 913.00,884.30 915.00,884.30 917.00,884.30 919.00,884.30 921.00,884.30 923.00,884.30 925.00,884.30 925.00,890.50 923.00,890.50 921.00,890.50 919.00,890.50 917.00,890.50 915.00,890.50 913.00,890.50 911.00,890.50 909.00,890.50 907.00,890.50 905.00,890.50 903.00,890.50 901.00,890.50 899.00,890.50 897.00,890.50 895.00,890.50 893.00,890.50 891.00,890.50 889.00,890.50 887.00,890.50 885.00,890.50 883.00,890.50 881.00,890.50 879.00,890.50 877.00,890.50 875.00,890.50 873.00,890.50 871.00,890.50 869.00,890.50 867.00,890.50 865.00,890.50 863.00,890.50 861.00,890.50 859.00,890.50 857.00,890.50 855.00,890.50 853.00,890.50 851.00,890.50 849.00,890.50 847.00,890.50 845.00,890.50 843.00,890.50 841.00,890.50 839.00,890.50 837.00,890.50 835.00,890.50 833.00,890.50 831.00,890.50 829.00,890.50 827.00,890.50 825.00,890.50 823.00,890.50 821.00,890.50 819.00,890.50 817.00,890.50 815.00,890.50 813.00,890.50 811.00,890.50 809.00,890.50 807.00,890.50 805.00,890.50 803.00,890.50 801.00,890.50 799.00,890.50 797.00,890.50 795.00,890.50 793.00,890.50 791.00,890.50 789.00,890.50 787.00,890.50 785.00,890.50 783.00,890.50 781.00,890.50 779.00,890.50 777.00,890.50 775.00,890.50 773.00,890.50 771.00,890.50 769.00,890.50 767.00,890.50 765.00,890.50 763.00,890.50 761.00,890.50 759.00,890.50 757.00,890.50 755.00,890.50 753.00,890.50 751.00,890.50 749.00,890.50 747.00,890.50 745.00,890.50 743.00,890.50 741.00,890.50 739.00,890.50 737.00,890.50 735.00,890.50 733.00,890.50 731.00,890.50 729.00,890.50 727.00,890.50 725.00,890.50 723.00,890.50 721.00,890.50 719.00,890.50 717.00,890.50 715.00,890.50 713.00,890.50 711.00,890.50 709.00,890.50 707.00,890.50 705.00,890.50 703.00,890.50 701.00,890.50 699.00,890.50 697.00,890.50 695.00,890.50 693.00,890.50 691.00,890.50 689.00,890.50 687.00,890.50 685.00,890.50 683.00,890.50 681.00,890.50 679.00,890.50 677.00,890.50 675.00,890.50 673.00,890.50 671.00,890.50 669.00,890.50 667.00,890.50 665.00,890.50 663.00,890.50 661.00,890.50 659.00,890.50 657.00,890.50 655.00,890.50 653.00,890.50 651.00,890.50 649.00,890.50 647.00,890.50 645.00,890.50 643.00,890.50 641.00,890.50 639.00,890.50 637.00,890.50 635.00,890.50 633.00,890.50 631.00,890.50 629.00,890.50 627.00,890.50 625.00,890.50 623.00,890.50 621.00,890.50 619.00,890.50 617.00,890.50 615.00,890.50 613.00,890.50 611.00,890.50 609.00,890.50 607.00,890.50 605.00,890.50 603.00,890.50 601.00,890.50 599.00,890.50 597.00,890.50 595.00,890.50 593.00,890.50 591.00,890.50 589.00,890.50 587.00,890.50 585.00,890.50 583.00,890.50 581.00,890.50 579.00,890.50 577.00,890.50 575.00,890.50 573.00,890.50 571.00,890.50 569.00,890.50 567.00,890.50 565.00,890.50 563.00,890.50 561.00,890.50 559.00,890.50 557.00,890.50 555.00,890.50 553.00,890.50 551.00,890.50 549.00,890.50 547.00,890.50 545.00,890.50 543.00,890.50 541.00,890.50 539.00,890.50 537.00,890.50 535.00,890.50 533.00,890.50 531.00,890.50 529.00,890.50 527.00,890.50 525.00,890.50 523.00,890.50 521.00,890.50 519.00,890.50 517.00,890.50 515.00,890.50 513.00,890.50 511.00,890.50 509.00,890.50 507.00,890.50 505.00,890.50 503.00,890.50 501.00,890.50 499.00,890.50 497.00,890.50 495.00,890.50 493.00,890.50 491.00,890.50 489.00,890.50 487.00,890.50 485.00,890.50 483.00,890.50 481.00,890.50 479.00,890.50 477.00,890.50 475.00,890.50 473.00,890.50 471.00,890.50 469.00,890.50 467.00,890.49 465.00,890.46 463.00,890.38 461.00,890.27 459.00,890.13 457.00,889.97 455.00,889.78 453.00,889.57 451.00,889.35 449.00,889.11 447.00,888.86 445.00,888.61 443.00,888.35 441.00,888.09 439.00,887.84 437.00,887.59 435.00,887.35 433.00,887.13 431.00,886.92 429.00,886.73 427.00,886.57 425.00,886.43 423.00,886.32 421.00,886.24 419.00,886.21 417.00,886.20 415.00,886.20 413.00,886.20 411.00,886.20 409.00,886.20 407.00,886.20 405.00,886.20 403.00,886.20 401.00,886.20 399.00,886.20 397.00,886.20 395.00,886.20 393.00,886.20 391.00,886.20 389.00,886.20 387.00,886.20 385.00,886.20 383.00,886.20 381.00,886.20 379.00,886.20 377.00,886.20 375.00,886.20 373.00,886.20 371.00,886.20 369.00,886.20 367.00,886.20 365.00,886.20 363.00,886.20 361.00,886.20 359.00,886.20 357.00,886.20 355.00,886.20 353.00,886.20 351.00,886.20 349.00,886.20 347.00,886.20 345.00,886.20 343.00,886.20 341.00,886.20 339.00,886.20 337.00,886.20 335.00,886.20 333.00,886.20 331.00,886.20 329.00,886.20 327.00,886.20 325.00,886.20 323.00,886.20 321.00,886.20 319.00,886.20 317.00,886.20 315.00,886.20 313.00,886.20 311.00,886.20 309.00,886.20 307.00,886.20 305.00,886.20 303.00,886.20 301.00,886.20 299.00,886.20 297.00,886.20 295.00,886.20 293.00,886.20 291.00,886.20 289.00,886.20 287.00,886.20 285.00,886.20 283.00,886.20 281.00,886.20 279.00,886.20 277.00,886.20 275.00,886.20 273.00,886.20 271.00,886.20 269.00,886.20 267.00,886.20 265.00,886.20 263.00,886.20 261.00,886.20 259.00,886.20 257.00,886.20 255.00,886.20 253.00,886.20 251.00,886.20 249.00,886.20 247.00,886.20 245.00,886.20 243.00,886.20 241.00,886.20 239.00,886.20 237.00,886.20 235.00,886.20 233.00,886.20 231.00,886.20 229.00,886.20 227.00,886.20 225.00,886.20 223.00,886.20 221.00,886.20 219.00,886.20 217.00,886.20 215.00,886.20 213.00,886.20 211.00,886.20 209.00,886.20 207.00,886.20 205.00,886.20 203.00,886.20 201.00,886.20 199.00,886.20 197.00,886.23 195.00,886.28 193.00,886.36 191.00,886.46 189.00,886.58 187.00,886.72 185.00,886.87 183.00,887.04 181.00,887.22 179.00,887.41 177.00,887.61 175.00,887.82 173.00,888.03 171.00,888.24 169.00,888.46 167.00,888.67 165.00,888.88 163.00,889.09 161.00,889.29 159.00,889.48 157.00,889.66 155.00,889.83 153.00,889.98 151.00,890.12 149.00,890.24 147.00,890.34 145.00,890.42 143.00,890.47 141.00,890.50 139.00,890.50 137.00,890.50 135.00,890.50 133.00,890.50 131.00,890.50 129.00,890.50 127.00,890.50 125.00,890.50 123.00,890.50 121.00,890.50 119.00,890.50 117.00,890.50 115.00,890.50 113.00,890.50 111.00,890.50 109.00,890.50 107.00,890.50 105.00,890.50 103.00,890.50 101.00,890.50 99.00,890.50 97.00,890.50 95.00,890.50 93.00,890.50 91.00,890.50 89.00,890.50 87.00,890.50 85.00,890.50 83.00,890.50 81.00,890.50 79.00,890.50 77.00,890.50 75.00,890.50 73.00,890.50 71.00,890.50 69.00,890.50 67.00,890.50 65.00,890.50" fill="#D62728"/>
<line x1="63.5" y1="896.4" x2="926.5" y2="896.4" stroke="#000" stroke-width="3"/>
<line x1="65.00" y1="898" x2="65.00" y2="903.7" stroke="#555" stroke-width="1.6"/><text x="38.77" y="931.6" font-family='"DejaVu Sans",sans-serif' font-size="27.5" textLength="52.47" lengthAdjust="spacingAndGlyphs">150</text><line x1="136.67" y1="898" x2="136.67" y2="903.7" stroke="#555" stroke-width="1.6"/><text x="110.43" y="931.6" font-family='"DejaVu Sans",sans-serif' font-size="27.5" textLength="52.47" lengthAdjust="spacingAndGlyphs">125</text><line x1="208.33" y1="898" x2="208.33" y2="903.7" stroke="#555" stroke-width="1.6"/><text x="182.10" y="931.6" font-family='"DejaVu Sans",sans-serif' font-size="27.5" textLength="52.47" lengthAdjust="spacingAndGlyphs">100</text><line x1="280.00" y1="898" x2="280.00" y2="903.7" stroke="#555" stroke-width="1.6"/><text x="262.51" y="931.6" font-family='"DejaVu Sans",sans-serif' font-size="27.5" textLength="34.98" lengthAdjust="spacingAndGlyphs">75</text><line x1="351.67" y1="898" x2="351.67" y2="903.7" stroke="#555" stroke-width="1.6"/><text x="334.18" y="931.6" font-family='"DejaVu Sans",sans-serif' font-size="27.5" textLength="34.98" lengthAdjust="spacingAndGlyphs">50</text><line x1="423.33" y1="898" x2="423.33" y2="903.7" stroke="#555" stroke-width="1.6"/><text x="405.84" y="931.6" font-family='"DejaVu Sans",sans-serif' font-size="27.5" textLength="34.98" lengthAdjust="spacingAndGlyphs">25</text><line x1="495.00" y1="898" x2="495.00" y2="903.7" stroke="#555" stroke-width="1.6"/><text x="486.25" y="931.6" font-family='"DejaVu Sans",sans-serif' font-size="27.5" textLength="17.49" lengthAdjust="spacingAndGlyphs">0</text><line x1="566.67" y1="898" x2="566.67" y2="903.7" stroke="#555" stroke-width="1.6"/><text x="537.65" y="931.6" font-family='"DejaVu Sans",sans-serif' font-size="27.5" textLength="58.02" lengthAdjust="spacingAndGlyphs">−25</text><line x1="638.33" y1="898" x2="638.33" y2="903.7" stroke="#555" stroke-width="1.6"/><text x="609.32" y="931.6" font-family='"DejaVu Sans",sans-serif' font-size="27.5" textLength="58.02" lengthAdjust="spacingAndGlyphs">−50</text><line x1="710.00" y1="898" x2="710.00" y2="903.7" stroke="#555" stroke-width="1.6"/><text x="680.99" y="931.6" font-family='"DejaVu Sans",sans-serif' font-size="27.5" textLength="58.02" lengthAdjust="spacingAndGlyphs">−75</text><line x1="781.67" y1="898" x2="781.67" y2="903.7" stroke="#555" stroke-width="1.6"/><text x="743.91" y="931.6" font-family='"DejaVu Sans",sans-serif' font-size="27.5" textLength="75.52" lengthAdjust="spacingAndGlyphs">−100</text><line x1="853.33" y1="898" x2="853.33" y2="903.7" stroke="#555" stroke-width="1.6"/><text x="815.58" y="931.6" font-family='"DejaVu Sans",sans-serif' font-size="27.5" textLength="75.52" lengthAdjust="spacingAndGlyphs">−125</text><line x1="925.00" y1="898" x2="925.00" y2="903.7" stroke="#555" stroke-width="1.6"/><text x="887.24" y="931.6" font-family='"DejaVu Sans",sans-serif' font-size="27.5" textLength="75.52" lengthAdjust="spacingAndGlyphs">−150</text>
<line x1="211.7" y1="701.5" x2="298.5" y2="853.7" stroke="#000" stroke-width="2.2" stroke-linecap="round"/>
<line x1="658.2" y1="452.4" x2="508.6" y2="530.7" stroke="#1a1a1a" stroke-width="1.7" stroke-linecap="round"/>
<line x1="58" y1="229" x2="58" y2="601" stroke="#000" stroke-width="3.6"/>
<line x1="50.5" y1="601" x2="383.5" y2="601" stroke="#000" stroke-width="3.6"/>
<line x1="58.0" y1="601" x2="58.0" y2="608.2" stroke="#000" stroke-width="3.2"/><line x1="117.0" y1="601" x2="117.0" y2="608.2" stroke="#000" stroke-width="3.2"/><line x1="176.0" y1="601" x2="176.0" y2="608.2" stroke="#000" stroke-width="3.2"/><line x1="235.0" y1="601" x2="235.0" y2="608.2" stroke="#000" stroke-width="3.2"/><line x1="294.0" y1="601" x2="294.0" y2="608.2" stroke="#000" stroke-width="3.2"/><line x1="353.0" y1="601" x2="353.0" y2="608.2" stroke="#000" stroke-width="3.2"/><text x="48.61" y="640.30" font-family='"Liberation Sans",Arial,sans-serif' font-size="31.60" textLength="18.78" lengthAdjust="spacingAndGlyphs">0</text><text x="107.61" y="640.30" font-family='"Liberation Sans",Arial,sans-serif' font-size="31.60" textLength="18.78" lengthAdjust="spacingAndGlyphs">1</text><text x="166.61" y="640.30" font-family='"Liberation Sans",Arial,sans-serif' font-size="31.60" textLength="18.78" lengthAdjust="spacingAndGlyphs">2</text><text x="225.61" y="640.30" font-family='"Liberation Sans",Arial,sans-serif' font-size="31.60" textLength="18.78" lengthAdjust="spacingAndGlyphs">3</text><text x="284.61" y="640.30" font-family='"Liberation Sans",Arial,sans-serif' font-size="31.60" textLength="18.78" lengthAdjust="spacingAndGlyphs">4</text><text x="343.61" y="640.30" font-family='"Liberation Sans",Arial,sans-serif' font-size="31.60" textLength="18.78" lengthAdjust="spacingAndGlyphs">5</text>
<polyline points="58.5,575 59,545 60,515 61,490 61.5,478 64,470 75.6,400 87.8,350 105,325 117.5,320.3 235,314.2 354.5,314.3" fill="none" stroke="#FF0000" stroke-width="3.4" stroke-linecap="round" stroke-linejoin="round"/>
<line x1="640.5" y1="16" x2="640.5" y2="376" stroke="#000" stroke-width="3"/>
<line x1="633.5" y1="375.8" x2="988" y2="375.8" stroke="#000" stroke-width="3.3"/>
<line x1="640.0" y1="376" x2="640.0" y2="383.6" stroke="#000" stroke-width="2.8"/><line x1="703.2" y1="376" x2="703.2" y2="383.6" stroke="#000" stroke-width="2.8"/><line x1="766.4" y1="376" x2="766.4" y2="383.6" stroke="#000" stroke-width="2.8"/><line x1="829.6" y1="376" x2="829.6" y2="383.6" stroke="#000" stroke-width="2.8"/><line x1="892.8" y1="376" x2="892.8" y2="383.6" stroke="#000" stroke-width="2.8"/><line x1="956.0" y1="376" x2="956.0" y2="383.6" stroke="#000" stroke-width="2.8"/><text x="630.06" y="415.30" font-family='"Liberation Sans",Arial,sans-serif' font-size="31.60" textLength="19.88" lengthAdjust="spacingAndGlyphs">0</text><text x="693.26" y="415.30" font-family='"Liberation Sans",Arial,sans-serif' font-size="31.60" textLength="19.88" lengthAdjust="spacingAndGlyphs">1</text><text x="756.46" y="415.30" font-family='"Liberation Sans",Arial,sans-serif' font-size="31.60" textLength="19.88" lengthAdjust="spacingAndGlyphs">2</text><text x="819.66" y="415.30" font-family='"Liberation Sans",Arial,sans-serif' font-size="31.60" textLength="19.88" lengthAdjust="spacingAndGlyphs">3</text><text x="882.86" y="415.30" font-family='"Liberation Sans",Arial,sans-serif' font-size="31.60" textLength="19.88" lengthAdjust="spacingAndGlyphs">4</text><text x="946.06" y="415.30" font-family='"Liberation Sans",Arial,sans-serif' font-size="31.60" textLength="19.88" lengthAdjust="spacingAndGlyphs">5</text>
<polyline points="640.5,338 642,325 645.75,297 659,233.3 671.3,195.5 690.2,160 705,143 829.9,114.2 957.5,113.7" fill="none" stroke="#22A022" stroke-width="3.3" stroke-linecap="round" stroke-linejoin="round"/>
<g fill="#4472C4"><circle cx="58" cy="569" r="5.6"/><circle cx="58" cy="566.5" r="5.6"/><circle cx="58" cy="563.5" r="5.6"/><circle cx="58" cy="560.5" r="5.6"/><circle cx="58" cy="557.5" r="5.6"/><circle cx="58" cy="542" r="5.6"/><circle cx="58" cy="531" r="5.6"/><circle cx="58" cy="527" r="5.6"/><circle cx="58" cy="523" r="5.6"/><circle cx="58" cy="519" r="5.6"/><circle cx="58" cy="509" r="5.6"/><circle cx="60" cy="503" r="5.6"/><circle cx="62" cy="500" r="5.6"/><circle cx="58" cy="489" r="5.6"/><circle cx="62" cy="486" r="5.6"/><circle cx="63" cy="483" r="5.6"/><circle cx="61" cy="480" r="5.6"/><circle cx="75.6" cy="403" r="5.6"/><circle cx="87.8" cy="346.6" r="5.6"/><circle cx="105" cy="322.6" r="5.6"/><circle cx="117.2" cy="315.6" r="5.6"/><circle cx="234.6" cy="311.8" r="5.6"/><circle cx="353" cy="322.6" r="5.6"/><circle cx="640.5" cy="338.3" r="5.6"/><circle cx="640.5" cy="333" r="5.6"/><circle cx="641.5" cy="321.5" r="5.6"/><circle cx="643.3" cy="312.8" r="5.6"/><circle cx="645.75" cy="300.5" r="5.6"/><circle cx="645.75" cy="292.8" r="5.6"/><circle cx="659" cy="233.3" r="5.6"/><circle cx="671.3" cy="195.5" r="5.6"/><circle cx="690.2" cy="164" r="5.6"/><circle cx="702.8" cy="149.3" r="5.6"/><circle cx="829.9" cy="113.6" r="5.6"/><circle cx="956" cy="105.9" r="5.6"/></g>
<text font-family='"Liberation Sans",Arial,sans-serif' font-size="30.77" textLength="153.91" lengthAdjust="spacingAndGlyphs" transform="translate(26.80,484.50) rotate(-90)">Integration</text>
<text font-family='"Liberation Sans",Arial,sans-serif' font-size="29.87" textLength="153.91" lengthAdjust="spacingAndGlyphs" transform="translate(615.30,270.90) rotate(-90)">Integration</text>
<text font-family='"DejaVu Sans",sans-serif' font-size="26.93" textLength="283.52" lengthAdjust="spacingAndGlyphs" x="353.20" y="963.30">Chemical shift (ppm)</text>
<text font-family='"Liberation Sans",Arial,sans-serif'><tspan x="132.40" y="428.90" font-size="34.73" textLength="31.05" lengthAdjust="spacingAndGlyphs">T1</tspan> <tspan x="175.20" y="428.90" font-size="34.73" textLength="20.78" lengthAdjust="spacingAndGlyphs">=</tspan> <tspan x="204.60" y="428.90" font-size="34.73" textLength="72.09" lengthAdjust="spacingAndGlyphs">~282</tspan> <tspan x="284.30" y="428.90" font-size="34.73" textLength="42.65" lengthAdjust="spacingAndGlyphs">ms</tspan></text>
<text font-family='"Liberation Sans",Arial,sans-serif'><tspan x="773.50" y="229.30" font-size="34.13" textLength="31.48" lengthAdjust="spacingAndGlyphs">T1</tspan> <tspan x="815.30" y="229.30" font-size="34.13" textLength="21.86" lengthAdjust="spacingAndGlyphs">=</tspan> <tspan x="844.80" y="229.30" font-size="34.13" textLength="73.35" lengthAdjust="spacingAndGlyphs">~505</tspan> <tspan x="924.80" y="229.30" font-size="34.13" textLength="45.08" lengthAdjust="spacingAndGlyphs">ms</tspan></text>
<text font-family='"Liberation Sans",Arial,sans-serif'><tspan x="153.10" y="672.80" font-size="30.33" textLength="66.49" lengthAdjust="spacingAndGlyphs">Time</tspan> <tspan x="228.10" y="672.80" font-size="30.33" textLength="60.86" lengthAdjust="spacingAndGlyphs">(ms)</tspan></text>
<text font-family='"Liberation Sans",Arial,sans-serif'><tspan x="746.10" y="448.20" font-size="31.2" textLength="67.34" lengthAdjust="spacingAndGlyphs">Time</tspan> <tspan x="820.80" y="448.20" font-size="31.2" textLength="61.93" lengthAdjust="spacingAndGlyphs">(ms)</tspan></text>
<text font-family='"Liberation Sans",Arial,sans-serif'><tspan x="314.20" y="578.10" font-size="32.83" textLength="21.27" lengthAdjust="spacingAndGlyphs">Li</tspan><tspan x="337.30" y="589.70" font-size="19" textLength="10.26" lengthAdjust="spacingAndGlyphs">x</tspan><tspan x="347.50" y="578.10" font-size="32.83" textLength="35.06" lengthAdjust="spacingAndGlyphs">Zn</tspan></text>
<text font-family='"Liberation Sans",Arial,sans-serif'><tspan x="830.40" y="316.00" font-size="31.5" textLength="42.84" lengthAdjust="spacingAndGlyphs">SEI</tspan> <tspan x="881.60" y="316.00" font-size="31.5" textLength="17.52" lengthAdjust="spacingAndGlyphs">+</tspan> <tspan x="907.50" y="316.00" font-size="31.5" textLength="22.11" lengthAdjust="spacingAndGlyphs">Li</tspan><tspan x="928.70" y="328.20" font-size="20" textLength="10.39" lengthAdjust="spacingAndGlyphs">2</tspan><tspan x="941.00" y="316.00" font-size="31.5" textLength="21.04" lengthAdjust="spacingAndGlyphs">O</tspan> <tspan x="969.60" y="316.00" font-size="31.5" textLength="17.51" lengthAdjust="spacingAndGlyphs">+</tspan></text>
<text font-family='"Liberation Sans",Arial,sans-serif'><tspan x="821.50" y="358.50" font-size="32.47" textLength="81.77" lengthAdjust="spacingAndGlyphs">dilute</tspan> <tspan x="910.60" y="358.50" font-size="32.47" textLength="85.40" lengthAdjust="spacingAndGlyphs">stages</tspan></text>
</svg>
</body></html>
